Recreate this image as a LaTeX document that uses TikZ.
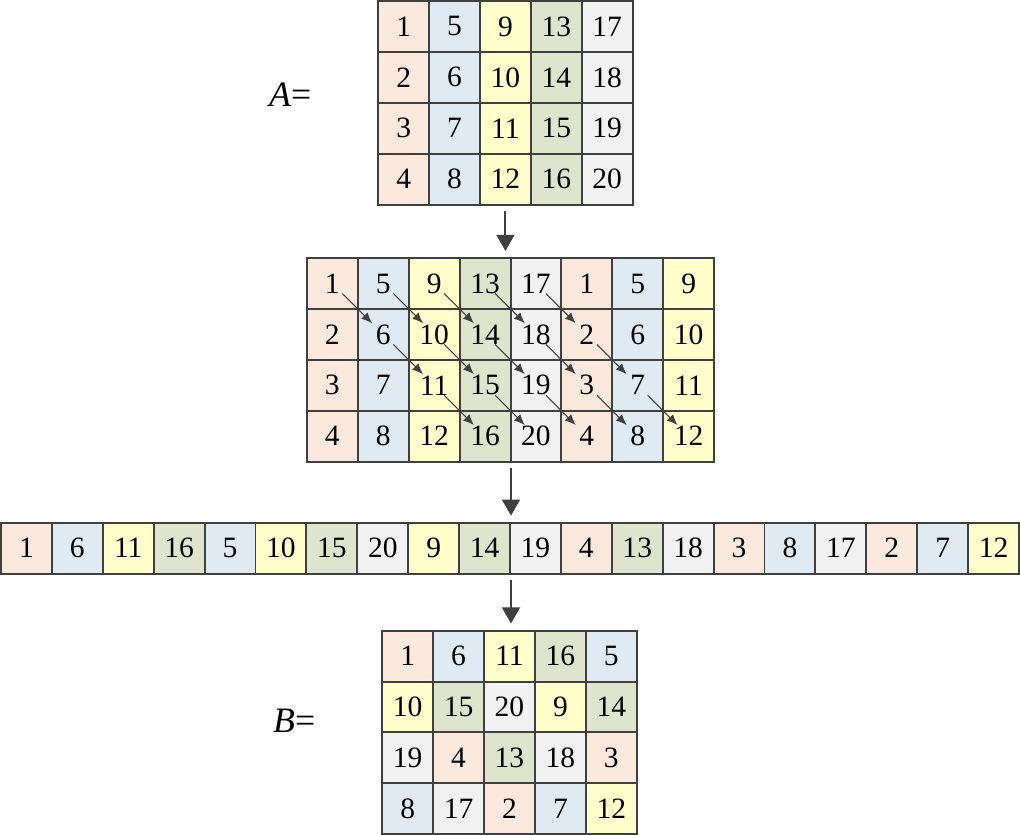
\documentclass[tikz,border=0pt]{standalone}
\usepackage{fontspec}
\setmainfont{Liberation Serif}
\usetikzlibrary{arrows.meta}
\definecolor{c0}{HTML}{FAE9DC}
\definecolor{c1}{HTML}{DFEAF3}
\definecolor{c2}{HTML}{FFFFCC}
\definecolor{c3}{HTML}{DFE5CD}
\definecolor{c4}{HTML}{F2F2F2}
\definecolor{edge}{HTML}{404040}
\tikzset{
	cell/.style={draw=edge,line width=1.1pt,minimum size=1cm,inner sep=0pt,font=\fontsize{16.5}{19}\selectfont},
	diag/.style={draw=edge,line width=0.6pt,-{Latex[length=6pt,width=5pt]},shorten <=0.28cm,shorten >=0.31cm},
	flow/.style={draw=edge,line width=1.1pt,-{Triangle[length=9pt,width=10pt]},shorten <=0.1cm,shorten >=0.12cm},
	lbl/.style={font=\fontsize{20}{24}\selectfont}
}
\begin{document}
\begin{tikzpicture}
	\useasboundingbox (-0.02,0.02) rectangle (20.02,-16.38);
	
	% matrix A
	\node [lbl] (la) at (5.68,-1.85) {\textit{A}=};
	\foreach \r in {0,...,3}
		\foreach \c in {0,...,4}{
			\pgfmathtruncatemacro\v{4*\c+\r+1}
			\node [cell,fill=c\c] (a-\r-\c) at (7.91+\c,-0.5-\r) {\v};
		}
	
	% A with its first columns repeated
	\foreach \r in {0,...,3}
		\foreach \c in {0,...,7}{
			\pgfmathtruncatemacro\k{mod(\c,5)}
			\pgfmathtruncatemacro\v{4*\k+\r+1}
			\node [cell,fill=c\k] (m-\r-\c) at (6.51+\c,-5.55-\r) {\v};
		}
	\foreach \r in {0,1,2}
		\foreach \d in {0,...,4}{
			\pgfmathtruncatemacro\i{\r+\d}
			\pgfmathtruncatemacro\s{\r+1}
			\pgfmathtruncatemacro\j{\i+1}
			\draw [diag] (m-\r-\i.center) -- (m-\s-\j.center);
		}
	
	% row, and matrix B
	\node [lbl] (lb) at (5.76,-14.14) {\textit{B}=};
	\foreach \v [count=\i from 0] in {1,6,11,16,5,10,15,20,9,14,19,4,13,18,3,8,17,2,7,12}{
		\pgfmathtruncatemacro\k{(\v-1)/4}
		\pgfmathtruncatemacro\p{\i/5}
		\pgfmathtruncatemacro\q{mod(\i,5)}
		\node [cell,fill=c\k] (r-\i) at (0.5+\i,-10.75) {\v};
		\node [cell,fill=c\k] (b-\p-\q) at (7.99+\q,-12.87-\p) {\v};
	}
	
	\draw [flow] (a-3-2.south) -- (a-3-2.south |- m-0-0.north);
	\draw [flow] (r-9.north east |- m-3-3.south) -- (r-9.north east);
	\draw [flow] (r-9.south east) -- (r-9.south east |- b-0-2.north);
\end{tikzpicture}
\end{document}
